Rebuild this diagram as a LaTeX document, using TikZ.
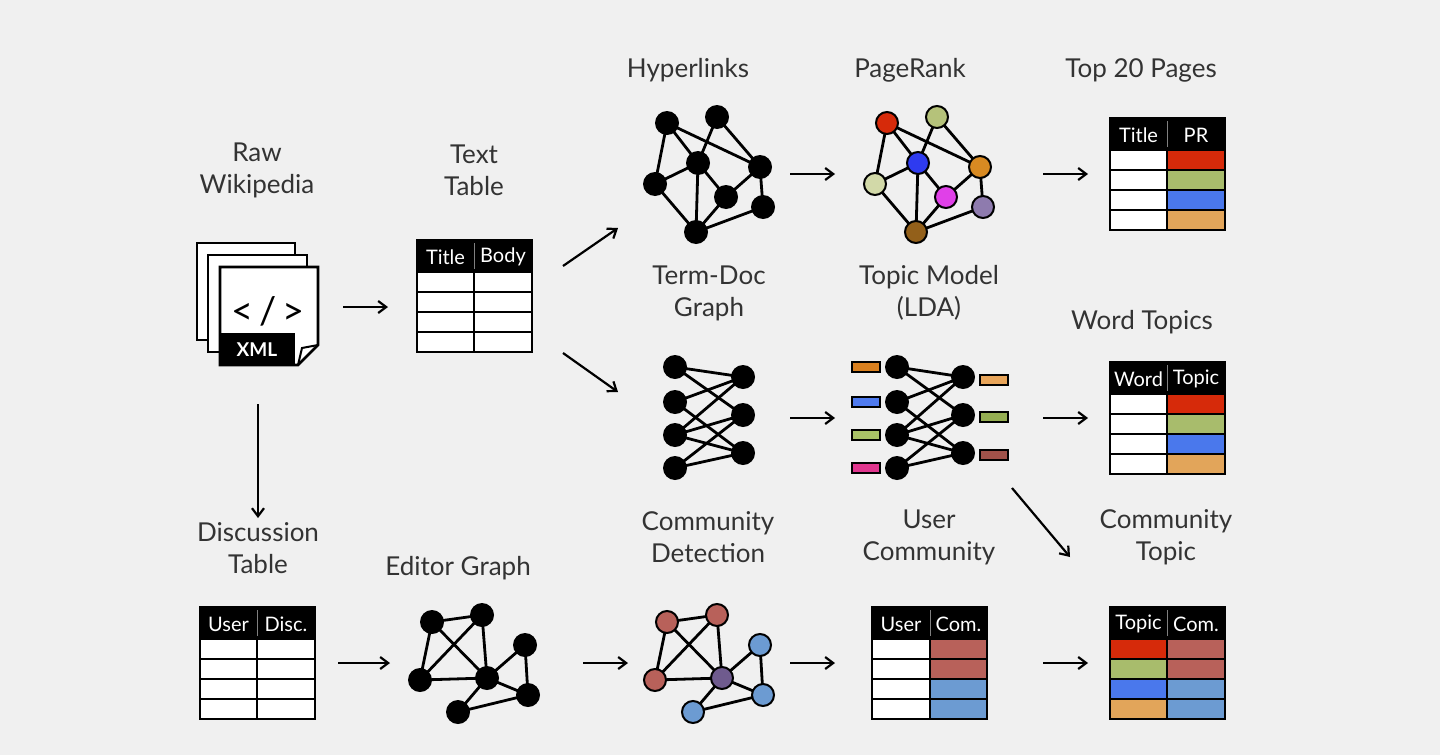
\documentclass[tikz,border=0pt]{standalone}
\usepackage{fontspec}
\setmainfont{Lato}
\begin{document}
\begin{tikzpicture}[x=0.5pt,y=-0.5pt,
  lbl/.style={font=\fontsize{13}{16}\selectfont\color[HTML]{333333}, align=center},
  th/.style={font=\fontsize{10}{10}\selectfont, text=white, inner sep=0},
  bn/.style={circle, fill=black, minimum size=12pt, inner sep=0},
  cn/.style={circle, draw=black, line width=1pt, minimum size=11pt, inner sep=0},
  ed/.style={line width=1.4pt},
  ar/.style={line width=1.1pt, -{Straight Barb[length=4pt,width=6pt]}},
  bar/.style={draw=black, line width=0.7pt, minimum width=14pt, minimum height=5pt, inner sep=0}]
\usetikzlibrary{arrows.meta}
\definecolor{bg}{HTML}{F0F0F0}
\definecolor{cR}{HTML}{D62A0A}\definecolor{cG}{HTML}{A8BC6C}\definecolor{cB}{HTML}{4A78EC}\definecolor{cO}{HTML}{E2A55A}
\definecolor{pA}{HTML}{D62A0A}\definecolor{pB}{HTML}{B5C27A}\definecolor{pC}{HTML}{2E3BF0}\definecolor{pD}{HTML}{D88A22}
\definecolor{pE}{HTML}{D2D9A8}\definecolor{pF}{HTML}{E040E8}\definecolor{pG}{HTML}{8E7BAE}\definecolor{pH}{HTML}{93601A}
\definecolor{mR}{HTML}{B8615A}\definecolor{mB}{HTML}{6C9BD2}\definecolor{mP}{HTML}{6F5B8E}
\definecolor{t1}{HTML}{D9801F}\definecolor{t2}{HTML}{4F7BF0}\definecolor{t3}{HTML}{A9C267}\definecolor{t4}{HTML}{E0368E}
\definecolor{u1}{HTML}{E8A55A}\definecolor{u2}{HTML}{95AE52}\definecolor{u3}{HTML}{A0524A}
\fill[bg] (0,0) rectangle (1440,755);
\useasboundingbox (0,0) rectangle (1440,755);
\newcommand\tbl[7]{%
  \foreach \c [count=\i] in {#6} {\fill[\c] (#1,#2+12+\i*20) rectangle ++(#3,20);}
  \foreach \c [count=\i] in {#7} {\fill[\c] (#1+#3,#2+12+\i*20) rectangle (#1+115,#2+32+\i*20);}
  \fill[black] (#1,#2) rectangle ++(115,32);
  \draw[gray,line width=0.5pt] (#1+#3,#2+3) -- (#1+#3,#2+29);
  \node[th] at (#1+#3/2,#2+17) {#4};
  \node[th] at (#1+#3/2+57.5,#2+17) {#5};
  \draw[line width=1.3pt] (#1,#2) rectangle (#1+115,#2+112);
  \foreach \k in {1,2,3} {\draw[line width=1.3pt] (#1,#2+32+\k*20) -- (#1+115,#2+32+\k*20);}
  \draw[line width=1.3pt] (#1,#2+32) -- (#1+115,#2+32);
  \draw[line width=1.3pt] (#1+#3,#2+32) -- (#1+#3,#2+112);
}
% labels
\node[lbl] (l1) at (257,170) {Raw\\Wikipedia};
\node[lbl] (l2) at (474,170) {Text\\Table};
\node[lbl] (l3) at (688,70) {Hyperlinks};
\node[lbl] (l4) at (910,70) {PageRank};
\node[lbl] (l5) at (1141,70) {Top 20 Pages};
\node[lbl] (l6) at (709,293) {Term-Doc\\Graph};
\node[lbl] (l7) at (929,293) {Topic Model\\(LDA)};
\node[lbl] (l8) at (1142,322) {Word Topics};
\node[lbl] (l9) at (258,548) {Discussion\\Table};
\node[lbl] (l10) at (458,568) {Editor Graph};
\node[lbl] (l11) at (708,537) {Community\\Detection};
\node[lbl] (l12) at (929,537) {User\\Community};
\node[lbl] (l13) at (1166,537) {Community\\Topic};
% XML docs
\draw[fill=white,line width=1.3pt] (197,243) rectangle (295,340);
\draw[fill=white,line width=1.3pt] (208,255) rectangle (307,352);
\draw[fill=white,line width=1.3pt] (220,267) -- (318,267) -- (318,345) -- (298,365) -- (220,365) -- cycle;
\fill[black] (220,333) rectangle (295,365);
\draw[line width=1pt] (318,345) -- (302,348) -- (298,365);
\node[font=\fontsize{19}{19}\selectfont] (code) at (268,311) {<\,/\,>};
\node[font=\bfseries\fontsize{9.5}{10}\selectfont,text=white] (xml) at (257,350) {XML};
% tables
\tbl{417}{240}{57}{Title}{Body}{white,white,white,white}{white,white,white,white}
\tbl{1110}{118}{57}{Title}{PR}{white,white,white,white}{cR,cG,cB,cO}
\tbl{1110}{362}{57}{Word}{Topic}{white,white,white,white}{cR,cG,cB,cO}
\tbl{200}{607}{57}{User}{Disc.}{white,white,white,white}{white,white,white,white}
\tbl{872}{607}{58}{User}{Com.}{white,white,white,white}{mR,mR,mB,mB}
\tbl{1110}{607}{57}{Topic}{Com.}{cR,cG,cB,cO}{mR,mR,mB,mB}
% hyperlinks graph
\foreach \n/\x/\y in {A/667/123,B/717/117,C/698/163,D/760/167,E/655/184,F/726/197,G/763/207,H/696/232}
  {\coordinate (h\n) at (\x,\y); \coordinate (p\n) at (\x+220,\y);}
\foreach \a/\b in {A/E,A/C,A/D,B/C,B/D,C/E,C/H,C/F,D/F,D/G,E/H,F/H,G/H}
  {\draw[ed] (h\a) -- (h\b); \draw[ed] (p\a) -- (p\b);}
\foreach \n in {A,B,C,D,E,F,G,H} {\node[bn] (hn\n) at (h\n) {}; \node[cn,fill=p\n] (pn\n) at (p\n) {};}
% term-doc and LDA
\foreach \i/\y in {1/367,2/402,3/435,4/468} {\coordinate (L\i) at (675,\y); \coordinate (M\i) at (897,\y);}
\foreach \i/\y in {1/377,2/415,3/453} {\coordinate (R\i) at (743,\y); \coordinate (S\i) at (963,\y);}
\foreach \a/\b in {1/1,1/2,2/1,2/3,3/1,3/2,3/3,4/2,4/3}
  {\draw[ed] (L\a) -- (R\b); \draw[ed] (M\a) -- (S\b);}
\foreach \i in {1,2,3,4} {\node[bn] (Ln\i) at (L\i) {}; \node[bn] (Mn\i) at (M\i) {};}
\foreach \i in {1,2,3} {\node[bn] (Rn\i) at (R\i) {}; \node[bn] (Sn\i) at (S\i) {};}
\foreach \i/\y/\c in {1/367/t1,2/402/t2,3/435/t3,4/468/t4} {\node[bar,fill=\c] (tb\i) at (866,\y) {};}
\foreach \i/\y/\c in {1/380/u1,2/417/u2,3/455/u3} {\node[bar,fill=\c] (ub\i) at (994,\y) {};}
% editor graph and community
\foreach \n/\x/\y in {1/432/622,2/482/615,3/525/645,4/420/680,5/487/678,6/528/695,7/458/712}
  {\coordinate (e\n) at (\x,\y); \coordinate (c\n) at (\x+235,\y);}
\foreach \a/\b in {1/2,1/4,1/5,2/4,2/5,4/5,5/3,3/6,5/6,5/7,7/6}
  {\draw[ed] (e\a) -- (e\b); \draw[ed] (c\a) -- (c\b);}
\foreach \n/\c in {1/mR,2/mR,3/mB,4/mR,5/mP,6/mB,7/mB} {\node[bn] (en\n) at (e\n) {}; \node[cn,fill=\c] (cn\n) at (c\n) {};}
% arrows
\foreach \n/\x/\y/\u/\v in {a1/343/307/388/307, a2/563/266/618/228, a3/563/353/618/392, a4/790/174/835/174,
  a5/1043/174/1088/174, a6/790/418/835/418, a7/1043/418/1088/418, a8/1012/488/1070/557, a9/258/404/258/518,
  a10/338/663/390/663, a11/583/663/628/663, a12/790/663/835/663, a13/1043/663/1088/663}
  {\coordinate (\n s) at (\x,\y); \coordinate (\n e) at (\u,\v); \draw[ar] (\n s) -- (\n e);}
\end{tikzpicture}
\end{document}
